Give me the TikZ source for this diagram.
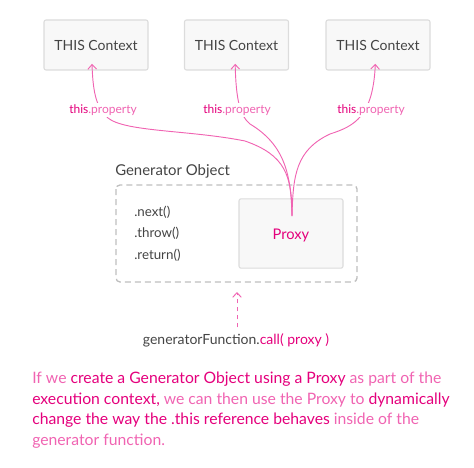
\documentclass[tikz,border=0pt]{standalone}
\usepackage{fontspec}
\setmainfont{Lato}
\usetikzlibrary{positioning, arrows.meta}
\definecolor{hotpink}{RGB}{228,0,124}
\definecolor{softpink}{RGB}{240,100,178}
\definecolor{inkgray}{RGB}{68,68,68}
\definecolor{boxfill}{RGB}{248,248,248}
\definecolor{boxline}{RGB}{220,220,220}
\definecolor{dashgray}{RGB}{190,190,190}

\tikzset{
  ctxbox/.style={draw=boxline, fill=boxfill, rounded corners=1.5pt, line width=0.8pt,
    minimum width=78pt, minimum height=37.5pt, text=inkgray, font=\fontsize{10.5}{12}\selectfont},
  proxybox/.style={draw=boxline, fill=boxfill, rounded corners=1.5pt, line width=0.8pt,
    minimum width=78pt, minimum height=52pt, text=hotpink, font=\fontsize{10.5}{12}\selectfont},
  proplabel/.style={fill=white, text=softpink, inner sep=1pt, font=\fontsize{9}{10}\selectfont},
  method/.style={anchor=west, inner sep=0pt, text=inkgray, font=\fontsize{10}{11}\selectfont},
  pinkline/.style={draw=softpink, line width=0.7pt, -{Straight Barb[length=3.5pt,width=6.5pt]}},
}

\begin{document}
\begin{tikzpicture}[x=0.75pt,y=0.75pt,yscale=-1,xscale=1]
\useasboundingbox (0,0) rectangle (474,467);

% context boxes
\node[ctxbox] (ctxA) at (96,45) {THIS Context};
\node[ctxbox] (ctxB) at (236.5,45) {THIS Context};
\node[ctxbox] (ctxC) at (378,45) {THIS Context};

% generator object
\draw[dashgray, line width=1pt, dash pattern=on 4.5pt off 3pt, rounded corners=3pt] (116,185) rectangle (357,282);
\node[anchor=west, inner sep=0pt, text=inkgray, font=\fontsize{11.2}{12}\selectfont] (genlabel) at (115,171) {Generator Object};
\node[method] (mnext) at (134,212) {.next()};
\node[method] (mthrow) at (134,233) {.throw()};
\node[method] (mreturn) at (134,255) {.return()};
\node[proxybox] (proxy) at (291,233.5) {};
\node[text=hotpink, font=\fontsize{11}{12}\selectfont] (proxytxt) at (291,236) {Proxy};
\coordinate (hub) at (292,216);

% proxy to contexts
\draw[pinkline] (hub) .. controls (292,175) and (285,155) .. (245,141)
  .. controls (190,130) and (125,132) .. (108,118)
  .. controls (97,108) and (93,95) .. ([xshift=-3pt,yshift=-5pt]ctxA.south);
\draw[pinkline] (hub) .. controls (291,175) and (285,145) .. (250,124)
  .. controls (240,116) and (236,100) .. ([xshift=-1pt,yshift=-5pt]ctxB.south);
\draw[pinkline] (hub) .. controls (293,175) and (296,150) .. (330,134)
  .. controls (355,126) and (373,116) .. ([xshift=-2pt,yshift=-5pt]ctxC.south);

\node[proplabel] (propA) at (103,110) {\textcolor{hotpink}{this}.property};
\node[proplabel] (propB) at (237,110) {\textcolor{hotpink}{this}.property};
\node[proplabel] (propC) at (371,110) {\textcolor{hotpink}{this}.property};

% call
\node[text=inkgray, font=\fontsize{10.5}{12}\selectfont] (call) at (236,340)
  {generatorFunction.\textcolor{hotpink}{call( proxy )}};
\coordinate (calltip) at (237,292);
\draw[pinkline, dashed] ([xshift=0.75pt,yshift=-1pt]call.north) -- (calltip);

% note
\node[anchor=north west, align=left, inner sep=0pt, text=softpink,
  font=\fontsize{11.8}{15.3}\selectfont] (note) at (32,372)
  {If we \textcolor{hotpink}{create a Generator Object using a Proxy} as part of the\\
   \textcolor{hotpink}{execution context,} we can then use the Proxy to \textcolor{hotpink}{dynamically}\\
   \textcolor{hotpink}{change the way the .this reference behaves} inside of the\\
   generator function.};
\end{tikzpicture}
\end{document}
